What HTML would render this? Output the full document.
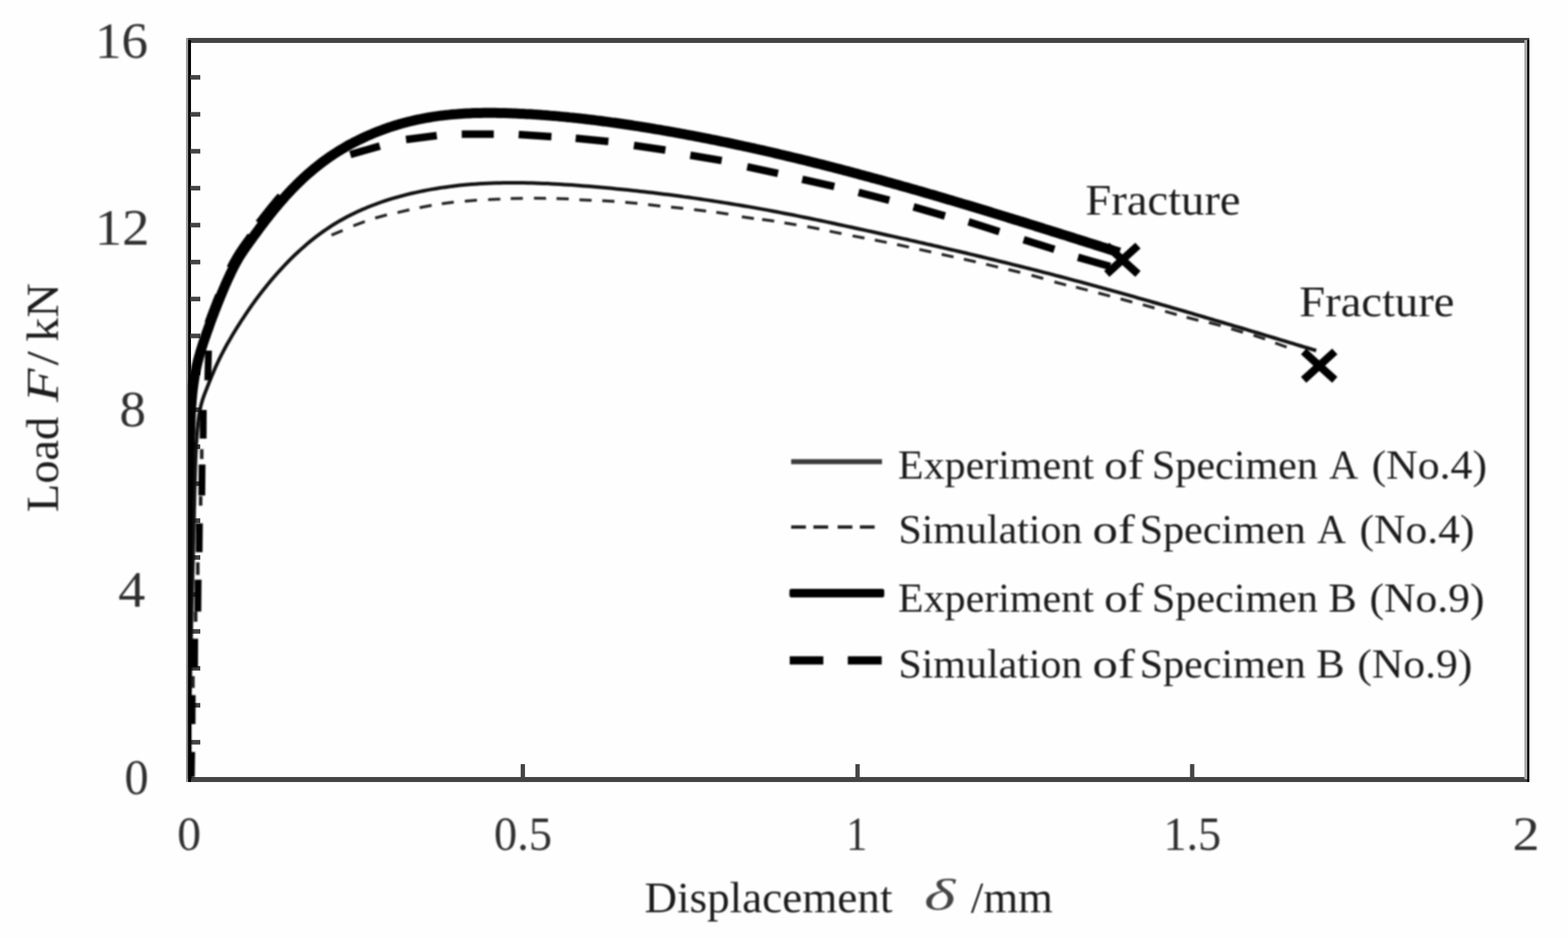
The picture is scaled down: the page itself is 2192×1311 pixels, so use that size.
<!DOCTYPE html>
<html lang="en"><head><meta charset="utf-8"><title>Load-displacement curves</title>
<style>
html,body{margin:0;padding:0;background:#fefefe;overflow:hidden}
body{width:2192px;height:1311px}
svg text{font-family:"Liberation Serif","DejaVu Serif",serif;fill:#1c1c1c}
</style></head><body>
<svg width="2192" height="1311" viewBox="0 0 2192 1311" style="display:block">
<rect width="100%" height="100%" fill="#fefefe"/>
<g shape-rendering="crispEdges">
<rect x="260" y="53" width="1878" height="7" fill="#444"/>
<rect x="260" y="1085.5" width="1878" height="7" fill="#444"/>
<rect x="259.6" y="53" width="3.7" height="1039.5" fill="#999"/>
<rect x="263.3" y="56" width="3.3" height="1036.5" fill="#000"/>
<rect x="2131" y="56" width="3.7" height="1033" fill="#aaa"/>
<rect x="2134.7" y="56" width="3.3" height="1036.5" fill="#000"/>
</g>
<rect x="266" y="1034.2" width="14" height="6.4" fill="#444"/>
<rect x="266" y="982.5" width="14" height="6.4" fill="#444"/>
<rect x="266" y="930.9" width="14" height="6.4" fill="#444"/>
<rect x="266" y="879.3" width="14" height="6.4" fill="#444"/>
<rect x="266" y="827.7" width="14" height="6.4" fill="#444"/>
<rect x="266" y="776.0" width="14" height="6.4" fill="#444"/>
<rect x="266" y="724.4" width="14" height="6.4" fill="#444"/>
<rect x="266" y="672.8" width="14" height="6.4" fill="#444"/>
<rect x="266" y="621.2" width="14" height="6.4" fill="#444"/>
<rect x="266" y="569.5" width="14" height="6.4" fill="#444"/>
<rect x="266" y="517.9" width="14" height="6.4" fill="#444"/>
<rect x="266" y="466.3" width="14" height="6.4" fill="#444"/>
<rect x="266" y="414.7" width="14" height="6.4" fill="#444"/>
<rect x="266" y="363.1" width="14" height="6.4" fill="#444"/>
<rect x="266" y="311.4" width="14" height="6.4" fill="#444"/>
<rect x="266" y="259.8" width="14" height="6.4" fill="#444"/>
<rect x="266" y="208.2" width="14" height="6.4" fill="#444"/>
<rect x="266" y="156.6" width="14" height="6.4" fill="#444"/>
<rect x="266" y="104.9" width="14" height="6.4" fill="#444"/>
<rect x="727.9" y="1068" width="6" height="18" fill="#444"/>
<rect x="1195.8" y="1068" width="6" height="18" fill="#444"/>
<rect x="1663.6" y="1068" width="6" height="18" fill="#444"/>
<filter id="soft" x="-2%" y="-2%" width="104%" height="104%" color-interpolation-filters="sRGB"><feGaussianBlur stdDeviation="0.8"/></filter>
<clipPath id="plot"><rect x="263.3" y="60" width="1871.4" height="1029"/></clipPath>
<g filter="url(#soft)">
<g clip-path="url(#plot)">
<path d="M264.5,1089.0 L264.5,1083.3 L264.5,1077.7 L264.5,1072.0 L264.6,1066.3 L264.6,1060.7 L264.6,1055.0 L264.6,1049.3 L264.7,1043.7 L264.7,1038.0 L264.8,1032.4 L264.8,1026.7 L264.9,1021.1 L265.0,1015.4 L265.0,1009.8 L265.1,1004.1 L265.2,998.5 L265.2,992.8 L265.3,987.2 L265.4,981.5 L265.5,975.9 L265.6,970.2 L265.7,964.6 L265.8,959.0 L265.9,953.3 L266.0,947.7 L266.1,942.1 L266.2,936.4 L266.3,930.8 L266.4,925.2 L266.5,919.5 L266.7,913.9 L266.8,908.3 L266.9,902.6 L267.0,897.0 L267.2,891.3 L267.3,885.7 L267.4,880.1 L267.5,874.4 L267.7,868.8 L267.8,863.2 L267.9,857.5 L268.1,851.9 L268.2,846.3 L268.4,840.6 L268.5,835.0 L268.6,829.3 L268.8,823.7 L268.9,818.1 L269.1,812.4 L269.2,806.8 L269.3,801.1 L269.5,795.5 L269.6,789.8 L269.8,784.2 L269.9,778.5 L270.0,772.9 L270.2,767.2 L270.3,761.5 L270.5,755.9 L270.6,750.2 L270.7,744.5 L270.9,738.9 L271.0,733.2 L271.1,727.5 L271.3,721.9 L271.4,716.2 L271.5,710.5 L271.7,704.8 L271.8,699.1 L271.9,693.4 L272.0,687.7 L272.2,682.1 L272.3,676.4 L272.5,670.7 L272.6,665.0 L272.8,659.3 L273.0,653.6 L273.2,648.0 L273.4,642.3 L273.6,636.7 L273.9,631.0 L274.2,625.4 L274.5,619.8 L274.9,614.2 L275.3,608.6 L275.7,603.0 L276.2,597.5 L276.7,592.0 L277.4,586.5 L278.1,581.0 L279.0,575.5 L280.1,570.1 L281.4,564.7 L283.0,559.3 L284.8,553.9 L286.8,548.6 L288.9,543.3 L291.0,538.0 L293.1,532.8 L295.2,527.5 L297.4,522.4 L299.6,517.2 L301.8,512.1 L304.2,507.0 L306.6,501.9 L309.1,496.8 L311.7,491.8 L314.4,486.8 L317.1,481.8 L319.9,476.9 L322.8,472.0 L325.7,467.1 L328.6,462.2 L331.6,457.4 L334.7,452.6 L337.7,447.8 L340.9,443.1 L344.0,438.4 L347.2,433.7 L350.4,429.0 L353.7,424.4 L357.0,419.8 L360.4,415.3 L363.8,410.8 L367.3,406.3 L370.8,401.9 L374.3,397.5 L377.9,393.1 L381.5,388.8 L385.2,384.6 L389.0,380.4 L392.8,376.2 L396.6,372.1 L400.5,368.0 L404.4,364.0 L408.4,360.0 L412.4,356.1 L416.5,352.3 L420.7,348.5 L424.9,344.8 L429.1,341.1 L433.4,337.5 L437.8,334.0 L442.2,330.6 L446.7,327.2 L451.3,323.9 L455.9,320.7 L460.5,317.6 L465.2,314.5 L470.0,311.6 L474.9,308.7 L479.8,306.0 L484.7,303.3 L489.7,300.7 L494.8,298.2 L499.9,295.8 L505.1,293.4 L510.3,291.2 L515.5,289.0 L520.8,287.0 L526.2,285.0 L531.5,283.0 L536.9,281.2 L542.3,279.4 L547.8,277.7 L553.3,276.1 L558.8,274.6 L564.3,273.1 L569.8,271.7 L575.4,270.3 L580.9,269.1 L586.5,267.9 L592.1,266.7 L597.7,265.6 L603.3,264.6 L608.8,263.7 L614.4,262.8 L620.0,261.9 L625.6,261.2 L631.2,260.4 L636.8,259.8 L642.4,259.1 L648.0,258.6 L653.6,258.1 L659.2,257.6 L664.8,257.2 L670.4,256.8 L676.0,256.5 L681.6,256.2 L687.2,256.0 L692.9,255.8 L698.5,255.7 L704.1,255.5 L709.7,255.5 L715.3,255.4 L720.9,255.4 L726.5,255.5 L732.1,255.6 L737.8,255.7 L743.4,255.8 L749.0,256.0 L754.6,256.2 L760.2,256.4 L765.8,256.6 L771.5,256.9 L777.1,257.2 L782.7,257.5 L788.3,257.9 L793.9,258.2 L799.6,258.6 L805.2,259.0 L810.8,259.5 L816.4,259.9 L822.1,260.3 L827.7,260.8 L833.3,261.3 L838.9,261.8 L844.5,262.3 L850.2,262.8 L855.8,263.3 L861.4,263.9 L867.0,264.4 L872.6,265.0 L878.3,265.6 L883.9,266.2 L889.5,266.8 L895.1,267.4 L900.7,268.0 L906.3,268.7 L912.0,269.3 L917.6,270.0 L923.2,270.7 L928.8,271.4 L934.4,272.1 L940.0,272.8 L945.6,273.5 L951.2,274.3 L956.8,275.1 L962.5,275.8 L968.1,276.6 L973.7,277.4 L979.3,278.2 L984.9,279.1 L990.5,279.9 L996.1,280.7 L1001.7,281.6 L1007.3,282.5 L1012.9,283.4 L1018.5,284.3 L1024.0,285.2 L1029.6,286.1 L1035.2,287.0 L1040.8,288.0 L1046.4,288.9 L1052.0,289.9 L1057.6,290.9 L1063.1,291.9 L1068.7,292.9 L1074.3,293.9 L1079.9,295.0 L1085.4,296.0 L1091.0,297.1 L1096.6,298.2 L1102.1,299.2 L1107.7,300.3 L1113.3,301.4 L1118.8,302.6 L1124.4,303.7 L1129.9,304.8 L1135.5,306.0 L1141.0,307.1 L1146.6,308.3 L1152.1,309.4 L1157.7,310.6 L1163.2,311.8 L1168.8,313.0 L1174.3,314.2 L1179.8,315.4 L1185.4,316.6 L1190.9,317.8 L1196.4,319.0 L1202.0,320.2 L1207.5,321.4 L1213.0,322.6 L1218.5,323.8 L1224.1,325.0 L1229.6,326.3 L1235.1,327.5 L1240.6,328.7 L1246.1,329.9 L1251.6,331.1 L1257.1,332.4 L1262.6,333.6 L1268.2,334.8 L1273.7,336.1 L1279.2,337.3 L1284.7,338.6 L1290.2,339.8 L1295.7,341.1 L1301.2,342.3 L1306.7,343.6 L1312.2,344.8 L1317.6,346.1 L1323.1,347.4 L1328.6,348.7 L1334.1,349.9 L1339.6,351.2 L1345.1,352.5 L1350.6,353.8 L1356.0,355.1 L1361.5,356.4 L1367.0,357.7 L1372.5,359.0 L1378.0,360.4 L1383.4,361.7 L1388.9,363.0 L1394.4,364.4 L1399.8,365.7 L1405.3,367.0 L1410.8,368.4 L1416.3,369.8 L1421.7,371.1 L1427.2,372.5 L1432.6,373.9 L1438.1,375.2 L1443.6,376.6 L1449.0,378.0 L1454.5,379.4 L1459.9,380.8 L1465.4,382.2 L1470.9,383.7 L1476.3,385.1 L1481.8,386.5 L1487.2,387.9 L1492.7,389.4 L1498.1,390.8 L1503.6,392.3 L1509.0,393.7 L1514.4,395.2 L1519.9,396.7 L1525.3,398.2 L1530.8,399.6 L1536.2,401.1 L1541.7,402.6 L1547.1,404.1 L1552.5,405.6 L1558.0,407.1 L1563.4,408.6 L1568.9,410.2 L1574.3,411.7 L1579.7,413.2 L1585.2,414.7 L1590.6,416.3 L1596.0,417.8 L1601.5,419.4 L1606.9,420.9 L1612.3,422.5 L1617.8,424.0 L1623.2,425.6 L1628.6,427.1 L1634.0,428.7 L1639.5,430.3 L1644.9,431.8 L1650.3,433.4 L1655.8,435.0 L1661.2,436.6 L1666.6,438.2 L1672.0,439.8 L1677.5,441.4 L1682.9,443.0 L1688.3,444.6 L1693.7,446.2 L1699.1,447.8 L1704.6,449.4 L1710.0,451.0 L1715.4,452.6 L1720.8,454.2 L1726.2,455.8 L1731.7,457.4 L1737.1,459.0 L1742.5,460.7 L1747.9,462.3 L1753.3,463.9 L1758.8,465.5 L1764.2,467.1 L1769.6,468.8 L1775.0,470.4 L1780.4,472.0 L1785.8,473.7 L1791.3,475.3 L1796.7,476.9 L1802.1,478.6 L1807.5,480.2 L1812.9,481.8 L1818.3,483.5 L1823.8,485.1 L1829.2,486.7 L1834.6,488.4 L1840.0,490.0" fill="none" stroke="#111" stroke-width="5" stroke-linejoin="round"/>
<line x1="463.4" y1="328.7" x2="479.0" y2="322.1" stroke="#222" stroke-width="4"/>
<line x1="494.0" y1="315.6" x2="510.0" y2="309.6" stroke="#222" stroke-width="4"/>
<line x1="524.5" y1="304.8" x2="540.9" y2="300.2" stroke="#222" stroke-width="4"/>
<line x1="555.7" y1="297.1" x2="572.3" y2="293.3" stroke="#222" stroke-width="4"/>
<line x1="586.6" y1="290.2" x2="603.4" y2="287.0" stroke="#222" stroke-width="4"/>
<line x1="617.6" y1="284.8" x2="634.4" y2="282.6" stroke="#222" stroke-width="4"/>
<line x1="649.8" y1="281.2" x2="666.8" y2="279.8" stroke="#222" stroke-width="4"/>
<line x1="682.4" y1="279.1" x2="699.4" y2="278.3" stroke="#222" stroke-width="4"/>
<line x1="713.9" y1="277.6" x2="730.9" y2="277.2" stroke="#222" stroke-width="4"/>
<line x1="746.5" y1="277.0" x2="763.5" y2="277.2" stroke="#222" stroke-width="4"/>
<line x1="778.0" y1="277.5" x2="795.0" y2="278.1" stroke="#222" stroke-width="4"/>
<line x1="810.0" y1="279.2" x2="827.0" y2="280.0" stroke="#222" stroke-width="4"/>
<line x1="842.0" y1="280.6" x2="859.0" y2="281.6" stroke="#222" stroke-width="4"/>
<line x1="874.1" y1="282.7" x2="891.1" y2="284.3" stroke="#222" stroke-width="4"/>
<line x1="906.1" y1="286.1" x2="923.1" y2="287.9" stroke="#222" stroke-width="4"/>
<line x1="938.1" y1="289.4" x2="955.1" y2="291.2" stroke="#222" stroke-width="4"/>
<line x1="970.3" y1="292.9" x2="987.1" y2="294.9" stroke="#222" stroke-width="4"/>
<line x1="1001.4" y1="296.7" x2="1018.2" y2="299.3" stroke="#222" stroke-width="4"/>
<line x1="1037.1" y1="303.0" x2="1053.9" y2="305.6" stroke="#222" stroke-width="4"/>
<line x1="1065.5" y1="306.7" x2="1082.3" y2="309.1" stroke="#222" stroke-width="4"/>
<line x1="1096.6" y1="311.5" x2="1113.4" y2="314.3" stroke="#222" stroke-width="4"/>
<line x1="1128.6" y1="316.8" x2="1145.4" y2="320.0" stroke="#222" stroke-width="4"/>
<line x1="1159.8" y1="323.1" x2="1176.4" y2="326.5" stroke="#222" stroke-width="4"/>
<line x1="1191.9" y1="329.6" x2="1208.5" y2="332.8" stroke="#222" stroke-width="4"/>
<line x1="1223.0" y1="335.5" x2="1239.6" y2="338.9" stroke="#222" stroke-width="4"/>
<line x1="1254.1" y1="341.8" x2="1270.7" y2="345.4" stroke="#222" stroke-width="4"/>
<line x1="1285.2" y1="348.6" x2="1301.8" y2="352.2" stroke="#222" stroke-width="4"/>
<line x1="1316.4" y1="355.5" x2="1333.0" y2="359.1" stroke="#222" stroke-width="4"/>
<line x1="1347.5" y1="362.2" x2="1364.1" y2="366.0" stroke="#222" stroke-width="4"/>
<line x1="1378.6" y1="369.4" x2="1395.2" y2="373.4" stroke="#222" stroke-width="4"/>
<line x1="1409.7" y1="376.8" x2="1426.3" y2="380.8" stroke="#222" stroke-width="4"/>
<line x1="1442.0" y1="384.8" x2="1458.4" y2="389.2" stroke="#222" stroke-width="4"/>
<line x1="1474.0" y1="394.0" x2="1490.4" y2="398.4" stroke="#222" stroke-width="4"/>
<line x1="1504.2" y1="401.4" x2="1520.6" y2="405.6" stroke="#222" stroke-width="4"/>
<line x1="1535.4" y1="409.5" x2="1551.8" y2="413.9" stroke="#222" stroke-width="4"/>
<line x1="1566.5" y1="417.8" x2="1582.9" y2="422.2" stroke="#222" stroke-width="4"/>
<line x1="1597.6" y1="425.9" x2="1614.0" y2="430.5" stroke="#222" stroke-width="4"/>
<line x1="1628.7" y1="435.1" x2="1645.1" y2="439.7" stroke="#222" stroke-width="4"/>
<line x1="1658.9" y1="443.5" x2="1675.3" y2="447.7" stroke="#222" stroke-width="4"/>
<line x1="1690.1" y1="450.7" x2="1706.5" y2="455.1" stroke="#222" stroke-width="4"/>
<line x1="1721.2" y1="459.7" x2="1737.6" y2="464.5" stroke="#222" stroke-width="4"/>
<line x1="1752.4" y1="468.6" x2="1768.6" y2="473.8" stroke="#222" stroke-width="4"/>
<line x1="1782.7" y1="479.3" x2="1798.7" y2="485.1" stroke="#222" stroke-width="4"/>
<line x1="282" y1="627.8" x2="282" y2="641.5" stroke="#222" stroke-width="5"/>
<line x1="280.5" y1="693.4" x2="280.5" y2="706.7" stroke="#222" stroke-width="5"/>
<line x1="276.5" y1="786" x2="276.5" y2="803.4" stroke="#222" stroke-width="5"/>
<line x1="273.5" y1="854.7" x2="273.5" y2="868.9" stroke="#222" stroke-width="5"/>
<line x1="269.7" y1="945" x2="269.7" y2="961.5" stroke="#222" stroke-width="5"/>
<line x1="267.5" y1="1086" x2="268" y2="1051" stroke="#000" stroke-width="9.5" stroke-linecap="butt"/>
<line x1="268.5" y1="1012" x2="268.7" y2="971.5" stroke="#000" stroke-width="9.5" stroke-linecap="butt"/>
<line x1="272" y1="933.1" x2="272.2" y2="892.8" stroke="#000" stroke-width="9.5" stroke-linecap="butt"/>
<line x1="276.6" y1="854.7" x2="277" y2="810.3" stroke="#000" stroke-width="9.5" stroke-linecap="butt"/>
<line x1="278.4" y1="771.7" x2="278.8" y2="731.4" stroke="#000" stroke-width="9.5" stroke-linecap="butt"/>
<line x1="282.1" y1="692.5" x2="282.5" y2="649.3" stroke="#000" stroke-width="9.5" stroke-linecap="butt"/>
<line x1="284" y1="613" x2="284.2" y2="573" stroke="#000" stroke-width="9.5" stroke-linecap="butt"/>
<line x1="290.5" y1="531.5" x2="291.5" y2="490" stroke="#000" stroke-width="9.5" stroke-linecap="butt"/>
<line x1="489.7" y1="216" x2="531" y2="204.1" stroke="#000" stroke-width="10.5" stroke-linecap="butt"/>
<line x1="567.6" y1="195" x2="610.6" y2="189.5" stroke="#000" stroke-width="10.5" stroke-linecap="butt"/>
<line x1="645.5" y1="187.4" x2="690.3" y2="187.4" stroke="#000" stroke-width="10.5" stroke-linecap="butt"/>
<line x1="725.1" y1="188.1" x2="770.9" y2="191" stroke="#000" stroke-width="10.5" stroke-linecap="butt"/>
<line x1="804.8" y1="193.2" x2="850.5" y2="197.8" stroke="#000" stroke-width="10.5" stroke-linecap="butt"/>
<line x1="886.2" y1="203.3" x2="930.2" y2="209.7" stroke="#000" stroke-width="10.5" stroke-linecap="butt"/>
<line x1="965" y1="217" x2="1008.9" y2="224.4" stroke="#000" stroke-width="10.5" stroke-linecap="butt"/>
<line x1="1044.6" y1="233.2" x2="1087.6" y2="242.4" stroke="#000" stroke-width="10.5" stroke-linecap="butt"/>
<line x1="1121.5" y1="250.6" x2="1166.3" y2="260.7" stroke="#000" stroke-width="10.5" stroke-linecap="butt"/>
<line x1="1200.2" y1="268.9" x2="1243.2" y2="279.9" stroke="#000" stroke-width="10.5" stroke-linecap="butt"/>
<line x1="1277.1" y1="289.1" x2="1321" y2="301.9" stroke="#000" stroke-width="10.5" stroke-linecap="butt"/>
<line x1="1354" y1="310.1" x2="1397" y2="323.8" stroke="#000" stroke-width="10.5" stroke-linecap="butt"/>
<line x1="1431" y1="334.9" x2="1474" y2="348.6" stroke="#000" stroke-width="10.5" stroke-linecap="butt"/>
<line x1="1507" y1="359.6" x2="1551.8" y2="372.4" stroke="#000" stroke-width="10.5" stroke-linecap="butt"/>
<path d="M291.7,451.7 L292.9,448.4 L294.1,445.2 L295.3,441.9 L296.5,438.7 L297.7,435.4 L299.0,432.2 L300.2,428.9 L301.5,425.7 L302.7,422.5 L304.0,419.3 L305.3,416.1 L306.6,412.9" fill="none" stroke="#000" stroke-width="12"/>
<path d="M322.5,374.9 L324.0,371.9 L325.6,368.8 L327.2,365.8 L329.0,362.7 L330.7,359.7 L332.6,356.6 L334.5,353.6 L336.5,350.6 L338.5,347.6 L340.5,344.7 L342.6,341.7 L344.7,338.8 L346.8,335.9 L348.9,333.0 L351.0,330.1" fill="none" stroke="#000" stroke-width="12"/>
<path d="M362.3,312.2 L364.4,309.5 L366.6,306.7 L368.7,303.9 L370.8,301.2 L373.0,298.4 L375.1,295.7 L377.3,293.0 L379.5,290.3 L381.7,287.7 L383.9,285.0 L386.1,282.3 L388.3,279.7 L390.6,277.1 L392.9,274.5" fill="none" stroke="#000" stroke-width="12"/>
<path d="M261.0,1089.0 L261.0,1085.6 L260.9,1082.2 L260.9,1078.8 L260.9,1075.4 L260.9,1072.0 L260.8,1068.6 L260.8,1065.2 L260.8,1061.8 L260.8,1058.4 L260.8,1055.0 L260.7,1051.5 L260.7,1048.1 L260.7,1044.7 L260.7,1041.3 L260.6,1037.8 L260.6,1034.4 L260.6,1031.0 L260.6,1027.6 L260.6,1024.1 L260.6,1020.7 L260.5,1017.2 L260.5,1013.8 L260.5,1010.4 L260.5,1006.9 L260.5,1003.5 L260.5,1000.0 L260.5,996.6 L260.4,993.1 L260.4,989.7 L260.4,986.2 L260.4,982.8 L260.4,979.3 L260.4,975.9 L260.4,972.4 L260.4,968.9 L260.4,965.5 L260.4,962.0 L260.4,958.5 L260.4,955.1 L260.4,951.6 L260.4,948.1 L260.4,944.7 L260.4,941.2 L260.4,937.7 L260.4,934.2 L260.4,930.8 L260.4,927.3 L260.4,923.8 L260.4,920.3 L260.4,916.9 L260.4,913.4 L260.4,909.9 L260.4,906.4 L260.4,902.9 L260.4,899.4 L260.4,896.0 L260.4,892.5 L260.5,889.0 L260.5,885.5 L260.5,882.0 L260.5,878.5 L260.5,875.0 L260.5,871.6 L260.6,868.1 L260.6,864.6 L260.6,861.1 L260.6,857.6 L260.6,854.1 L260.7,850.6 L260.7,847.1 L260.7,843.6 L260.8,840.1 L260.8,836.6 L260.8,833.2 L260.8,829.7 L260.9,826.2 L260.9,822.7 L260.9,819.2 L261.0,815.7 L261.0,812.2 L261.1,808.7 L261.1,805.2 L261.1,801.7 L261.2,798.2 L261.2,794.7 L261.3,791.2 L261.3,787.8 L261.4,784.3 L261.4,780.8 L261.4,777.3 L261.5,773.8 L261.6,770.3 L261.6,766.8 L261.7,763.3 L261.7,759.8 L261.8,756.3 L261.8,752.9 L261.9,749.4 L262.0,745.9 L262.0,742.4 L262.1,738.9 L262.1,735.4 L262.2,732.0 L262.3,728.5 L262.3,725.0 L262.4,721.5 L262.5,718.0 L262.6,714.6 L262.6,711.1 L262.7,707.6 L262.8,704.1 L262.9,700.7 L263.0,697.2 L263.0,693.7 L263.1,690.2 L263.2,686.8 L263.3,683.3 L263.4,679.8 L263.5,676.4 L263.6,672.9 L263.7,669.4 L263.8,666.0 L263.9,662.5 L264.0,659.1 L264.1,655.6 L264.2,652.1 L264.3,648.7 L264.4,645.2 L264.5,641.8 L264.6,638.3 L264.7,634.9 L264.8,631.4 L264.9,628.0 L265.0,624.6 L265.1,621.1 L265.3,617.7 L265.4,614.2 L265.5,610.8 L265.6,607.4 L265.8,604.0 L265.9,600.5 L266.0,597.1 L266.1,593.7 L266.3,590.3 L266.4,586.8 L266.6,583.4 L266.7,580.0 L266.9,576.6 L267.1,573.2 L267.3,569.8 L267.5,566.4 L267.8,563.0 L268.0,559.6 L268.3,556.2 L268.6,552.8 L268.9,549.4 L269.3,546.0 L269.7,542.6 L270.1,539.2 L270.6,535.8 L271.1,532.4 L271.6,529.1 L272.1,525.7 L272.8,522.3 L273.4,518.9 L274.1,515.6 L274.8,512.2 L275.6,508.9 L276.4,505.5 L277.3,502.1 L278.2,498.8 L279.2,495.5 L280.1,492.1 L281.1,488.8 L282.2,485.4 L283.2,482.1 L284.3,478.8 L285.4,475.5 L286.5,472.2 L287.7,468.8 L288.8,465.5 L290.0,462.3 L291.2,459.0 L292.4,455.7 L293.5,452.4 L294.7,449.1 L295.9,445.9 L297.1,442.6 L298.4,439.4 L299.6,436.1 L300.8,432.9 L302.1,429.7 L303.3,426.5 L304.6,423.2 L305.9,420.0 L307.2,416.9 L308.5,413.7 L309.8,410.5 L311.1,407.3 L312.4,404.2 L313.8,401.0 L315.1,397.9 L316.5,394.8 L317.9,391.7 L319.3,388.6 L320.8,385.5 L322.2,382.4 L323.7,379.3 L325.2,376.3 L326.7,373.2 L328.3,370.2 L329.9,367.2 L331.6,364.2 L333.3,361.2 L335.1,358.2 L337.0,355.2 L338.9,352.3 L340.9,349.3 L343.0,346.4 L345.1,343.5 L347.1,340.6 L349.2,337.7 L351.3,334.8 L353.4,331.9 L355.5,329.0 L357.6,326.2 L359.7,323.4 L361.8,320.5 L363.8,317.7 L365.9,315.0 L368.0,312.2 L370.1,309.4 L372.2,306.7 L374.4,303.9 L376.5,301.2 L378.6,298.5 L380.8,295.8 L382.9,293.2 L385.1,290.5 L387.3,287.9 L389.5,285.3 L391.7,282.7 L394.0,280.1 L396.3,277.5 L398.5,275.0 L400.8,272.4 L403.1,269.9 L405.5,267.4 L407.8,264.9 L410.2,262.5 L412.6,260.1 L415.0,257.6 L417.5,255.2 L419.9,252.9 L422.4,250.5 L424.9,248.2 L427.4,245.9 L430.0,243.6 L432.6,241.4 L435.1,239.2 L437.8,236.9 L440.4,234.8 L443.1,232.6 L445.8,230.5 L448.5,228.4 L451.2,226.3 L454.0,224.3 L456.7,222.3 L459.6,220.3 L462.4,218.3 L465.3,216.4 L468.2,214.5 L471.1,212.6 L474.0,210.8 L477.0,209.0 L480.0,207.2 L483.0,205.4 L486.0,203.7 L489.1,202.0 L492.2,200.4 L495.2,198.8 L498.4,197.2 L501.5,195.6 L504.7,194.1 L507.8,192.6 L511.0,191.1 L514.2,189.7 L517.4,188.3 L520.7,186.9 L523.9,185.6 L527.2,184.3 L530.4,183.0 L533.7,181.8 L537.0,180.5 L540.3,179.4 L543.6,178.2 L547.0,177.1 L550.3,176.0 L553.6,175.0 L557.0,174.0 L560.3,173.0 L563.7,172.1 L567.0,171.2 L570.4,170.3 L573.8,169.5 L577.1,168.7 L580.5,167.9 L583.9,167.2 L587.3,166.5 L590.6,165.8 L594.0,165.2 L597.4,164.5 L600.8,164.0 L604.2,163.4 L607.6,162.9 L611.0,162.4 L614.3,161.9 L617.7,161.5 L621.1,161.1 L624.5,160.7 L627.9,160.4 L631.3,160.0 L634.8,159.7 L638.2,159.5 L641.6,159.2 L645.0,159.0 L648.4,158.8 L651.8,158.6 L655.2,158.4 L658.7,158.2 L662.1,158.1 L665.5,158.0 L668.9,157.9 L672.3,157.9 L675.8,157.8 L679.2,157.8 L682.6,157.8 L686.1,157.8 L689.5,157.8 L692.9,157.8 L696.4,157.9 L699.8,157.9 L703.2,158.0 L706.7,158.1 L710.1,158.2 L713.5,158.3 L717.0,158.5 L720.4,158.6 L723.9,158.7 L727.3,158.9 L730.8,159.1 L734.2,159.3 L737.7,159.4 L741.1,159.6 L744.5,159.8 L748.0,160.1 L751.4,160.3 L754.9,160.5 L758.3,160.8 L761.8,161.0 L765.2,161.3 L768.7,161.6 L772.1,161.9 L775.6,162.1 L779.0,162.4 L782.5,162.8 L786.0,163.1 L789.4,163.4 L792.9,163.7 L796.3,164.1 L799.8,164.4 L803.2,164.8 L806.7,165.1 L810.1,165.5 L813.6,165.9 L817.0,166.3 L820.5,166.7 L823.9,167.1 L827.4,167.5 L830.8,167.9 L834.3,168.4 L837.7,168.8 L841.2,169.2 L844.6,169.7 L848.1,170.1 L851.5,170.6 L855.0,171.1 L858.4,171.5 L861.9,172.0 L865.3,172.5 L868.8,173.0 L872.2,173.5 L875.7,174.0 L879.1,174.5 L882.6,175.0 L886.0,175.6 L889.4,176.1 L892.9,176.6 L896.3,177.2 L899.7,177.7 L903.2,178.3 L906.6,178.8 L910.1,179.4 L913.5,180.0 L916.9,180.6 L920.3,181.1 L923.8,181.7 L927.2,182.3 L930.6,182.9 L934.1,183.5 L937.5,184.1 L940.9,184.7 L944.3,185.3 L947.7,185.9 L951.2,186.6 L954.6,187.2 L958.0,187.8 L961.4,188.5 L964.8,189.1 L968.2,189.7 L971.6,190.4 L975.0,191.0 L978.4,191.7 L981.8,192.4 L985.2,193.0 L988.7,193.7 L992.1,194.4 L995.4,195.1 L998.8,195.7 L1002.2,196.4 L1005.6,197.1 L1009.0,197.8 L1012.4,198.5 L1015.8,199.2 L1019.2,199.9 L1022.6,200.6 L1026.0,201.4 L1029.4,202.1 L1032.8,202.8 L1036.1,203.5 L1039.5,204.3 L1042.9,205.0 L1046.3,205.7 L1049.7,206.5 L1053.0,207.2 L1056.4,208.0 L1059.8,208.7 L1063.2,209.5 L1066.5,210.2 L1069.9,211.0 L1073.3,211.8 L1076.6,212.5 L1080.0,213.3 L1083.4,214.1 L1086.8,214.9 L1090.1,215.7 L1093.5,216.5 L1096.8,217.3 L1100.2,218.1 L1103.6,218.9 L1106.9,219.7 L1110.3,220.5 L1113.6,221.3 L1117.0,222.1 L1120.4,222.9 L1123.7,223.7 L1127.1,224.6 L1130.4,225.4 L1133.8,226.2 L1137.1,227.1 L1140.5,227.9 L1143.8,228.7 L1147.2,229.6 L1150.5,230.4 L1153.9,231.3 L1157.2,232.1 L1160.6,233.0 L1163.9,233.8 L1167.2,234.7 L1170.6,235.6 L1173.9,236.4 L1177.3,237.3 L1180.6,238.2 L1184.0,239.1 L1187.3,239.9 L1190.6,240.8 L1194.0,241.7 L1197.3,242.6 L1200.6,243.5 L1204.0,244.4 L1207.3,245.3 L1210.6,246.2 L1214.0,247.1 L1217.3,248.0 L1220.6,248.9 L1224.0,249.8 L1227.3,250.7 L1230.6,251.6 L1233.9,252.5 L1237.3,253.5 L1240.6,254.4 L1243.9,255.3 L1247.3,256.2 L1250.6,257.2 L1253.9,258.1 L1257.2,259.0 L1260.5,260.0 L1263.9,260.9 L1267.2,261.8 L1270.5,262.8 L1273.8,263.7 L1277.2,264.7 L1280.5,265.6 L1283.8,266.6 L1287.1,267.5 L1290.4,268.5 L1293.8,269.5 L1297.1,270.4 L1300.4,271.4 L1303.7,272.3 L1307.0,273.3 L1310.3,274.3 L1313.6,275.2 L1317.0,276.2 L1320.3,277.2 L1323.6,278.2 L1326.9,279.2 L1330.2,280.1 L1333.5,281.1 L1336.8,282.1 L1340.2,283.1 L1343.5,284.1 L1346.8,285.1 L1350.1,286.1 L1353.4,287.0 L1356.7,288.0 L1360.0,289.0 L1363.3,290.0 L1366.6,291.0 L1369.9,292.0 L1373.3,293.0 L1376.6,294.0 L1379.9,295.0 L1383.2,296.0 L1386.5,297.1 L1389.8,298.1 L1393.1,299.1 L1396.4,300.1 L1399.7,301.1 L1403.0,302.1 L1406.3,303.1 L1409.6,304.2 L1412.9,305.2 L1416.2,306.2 L1419.5,307.2 L1422.9,308.2 L1426.2,309.3 L1429.5,310.3 L1432.8,311.3 L1436.1,312.3 L1439.4,313.4 L1442.7,314.4 L1446.0,315.4 L1449.3,316.5 L1452.6,317.5 L1455.9,318.5 L1459.2,319.6 L1462.5,320.6 L1465.8,321.6 L1469.1,322.7 L1472.4,323.7 L1475.7,324.7 L1479.0,325.8 L1482.3,326.8 L1485.6,327.9 L1489.0,328.9 L1492.3,329.9 L1495.6,331.0 L1498.9,332.0 L1502.2,333.1 L1505.5,334.1 L1508.8,335.2 L1512.1,336.2 L1515.4,337.3 L1518.7,338.3 L1522.0,339.4 L1525.3,340.4 L1528.6,341.4 L1531.9,342.5 L1535.2,343.5 L1538.5,344.6 L1541.8,345.6 L1545.2,346.7 L1548.5,347.7 L1551.8,348.8 L1555.1,349.8 L1558.4,350.9 L1561.7,351.9 L1565.0,353.0" fill="none" stroke="#000" stroke-width="14" stroke-linejoin="round"/>
</g>
<path d="M1547.2,343.3 L1590.8,382.90000000000003 M1590.8,343.3 L1547.2,382.90000000000003" stroke="#000" stroke-width="11" fill="none"/>
<path d="M1822.4,491.3 L1866.0,530.9 M1866.0,491.3 L1822.4,530.9" stroke="#000" stroke-width="11" fill="none"/>
<line x1="1106" y1="645.3" x2="1233" y2="645.3" stroke="#3c3c3c" stroke-width="7"/>
<line x1="1106" y1="736.6" x2="1126.6" y2="736.6" stroke="#1a1a1a" stroke-width="4.6"/>
<line x1="1137.1" y1="736.6" x2="1157.6999999999998" y2="736.6" stroke="#1a1a1a" stroke-width="4.6"/>
<line x1="1171" y1="736.6" x2="1191.6" y2="736.6" stroke="#1a1a1a" stroke-width="4.6"/>
<line x1="1202.1" y1="736.6" x2="1222.6999999999998" y2="736.6" stroke="#1a1a1a" stroke-width="4.6"/>
<rect x="1103.6" y="823.1" width="132.6" height="12" rx="3" fill="#000"/>
<line x1="1104" y1="922.9" x2="1151" y2="922.9" stroke="#000" stroke-width="11.5"/>
<line x1="1185.2" y1="922.9" x2="1232.6" y2="922.9" stroke="#000" stroke-width="11.5"/>
</g>
<g filter="url(#soft)">
<text transform="translate(132.71,80.50) scale(1.0467,1)" font-size="71.00" style="fill:#303030" xml:space="preserve">16</text>
<text transform="translate(132.53,341.90) scale(1.0754,1)" font-size="71.00" style="fill:#303030" xml:space="preserve">12</text>
<text transform="translate(167.04,596.30) scale(1.0429,1)" font-size="71.00" style="fill:#303030" xml:space="preserve">8</text>
<text transform="translate(165.29,848.30) scale(1.0655,1)" font-size="71.00" style="fill:#303030" xml:space="preserve">4</text>
<text transform="translate(173.90,1110.00) scale(0.9660,1)" font-size="70.00" style="fill:#303030" xml:space="preserve">0</text>
<text transform="translate(247.83,1188.30) scale(0.9804,1)" font-size="68.00" style="fill:#303030" xml:space="preserve">0</text>
<text transform="translate(690.50,1188.30) scale(0.9553,1)" font-size="68.00" style="fill:#303030" xml:space="preserve">0.5</text>
<text transform="translate(1183.00,1188.30) scale(0.8655,1)" font-size="68.00" style="fill:#303030" xml:space="preserve">1</text>
<text transform="translate(1626.39,1188.30) scale(0.9493,1)" font-size="68.00" style="fill:#303030" xml:space="preserve">1.5</text>
<text transform="translate(2114.38,1188.30) scale(1.1103,1)" font-size="68.00" style="fill:#303030" xml:space="preserve">2</text>
<text transform="translate(900.91,1274.50) scale(1.0148,1)" font-size="62.16" xml:space="preserve">Displacement</text>
<text transform="translate(1292.10,1271.00) scale(1.5054,1)" font-size="62.00" style="fill:#444" xml:space="preserve"><tspan font-style="italic">δ</tspan></text>
<text transform="translate(1357.30,1274.50) scale(1.0051,1)" font-size="62.16" xml:space="preserve">/mm</text>
<text transform="translate(1517.25,300.30) scale(1.0610,1)" font-size="61.39" xml:space="preserve">Fracture</text>
<text transform="translate(1816.25,441.60) scale(1.0610,1)" font-size="61.39" xml:space="preserve">Fracture</text>
<text transform="translate(1255.34,668.90) scale(1.0337,1)" font-size="56.81" xml:space="preserve">Experiment</text>
<text transform="translate(1543.46,668.90) scale(1.1631,1)" font-size="56.81" xml:space="preserve">of</text>
<text transform="translate(1610.18,668.90) scale(1.0370,1)" font-size="56.81" xml:space="preserve">Specimen</text>
<text transform="translate(1858.14,668.90) scale(0.9857,1)" font-size="56.81" xml:space="preserve">A</text>
<text transform="translate(1917.45,668.90) scale(1.0768,1)" font-size="56.81" xml:space="preserve">(No.4)</text>
<text transform="translate(1256.00,758.60) scale(1.0311,1)" font-size="56.81" xml:space="preserve">Simulation</text>
<text transform="translate(1527.15,758.60) scale(1.2522,1)" font-size="56.81" xml:space="preserve">of</text>
<text transform="translate(1593.18,758.60) scale(1.0365,1)" font-size="56.81" xml:space="preserve">Specimen</text>
<text transform="translate(1841.14,758.60) scale(0.9832,1)" font-size="56.81" xml:space="preserve">A</text>
<text transform="translate(1900.46,758.60) scale(1.0734,1)" font-size="56.81" xml:space="preserve">(No.4)</text>
<text transform="translate(1255.34,854.90) scale(1.0337,1)" font-size="56.81" xml:space="preserve">Experiment</text>
<text transform="translate(1543.46,854.90) scale(1.1631,1)" font-size="56.81" xml:space="preserve">of</text>
<text transform="translate(1610.18,854.90) scale(1.0370,1)" font-size="56.81" xml:space="preserve">Specimen</text>
<text transform="translate(1856.92,854.90) scale(1.0472,1)" font-size="56.81" xml:space="preserve">B</text>
<text transform="translate(1914.46,854.90) scale(1.0741,1)" font-size="56.81" xml:space="preserve">(No.9)</text>
<text transform="translate(1256.00,947.20) scale(1.0311,1)" font-size="56.81" xml:space="preserve">Simulation</text>
<text transform="translate(1527.15,947.20) scale(1.2522,1)" font-size="56.81" xml:space="preserve">of</text>
<text transform="translate(1593.18,947.20) scale(1.0365,1)" font-size="56.81" xml:space="preserve">Specimen</text>
<text transform="translate(1839.92,947.20) scale(1.0472,1)" font-size="56.81" xml:space="preserve">B</text>
<text transform="translate(1897.46,947.20) scale(1.0734,1)" font-size="56.81" xml:space="preserve">(No.9)</text>
<text transform="translate(80.50,715.75) rotate(-90) scale(1.0361,1)" font-size="62.62" xml:space="preserve">Load</text>
<text transform="translate(80.50,561.90) rotate(-90) scale(1.2261,1)" font-size="62.62" xml:space="preserve"><tspan font-style="italic">F</tspan></text>
<text transform="translate(80.50,510.70) rotate(-90) scale(1.1521,1)" font-size="62.62" xml:space="preserve">/</text>
<text transform="translate(80.50,477.43) rotate(-90) scale(1.0651,1)" font-size="62.62" xml:space="preserve">kN</text>
</g>
</svg>
</body></html>
